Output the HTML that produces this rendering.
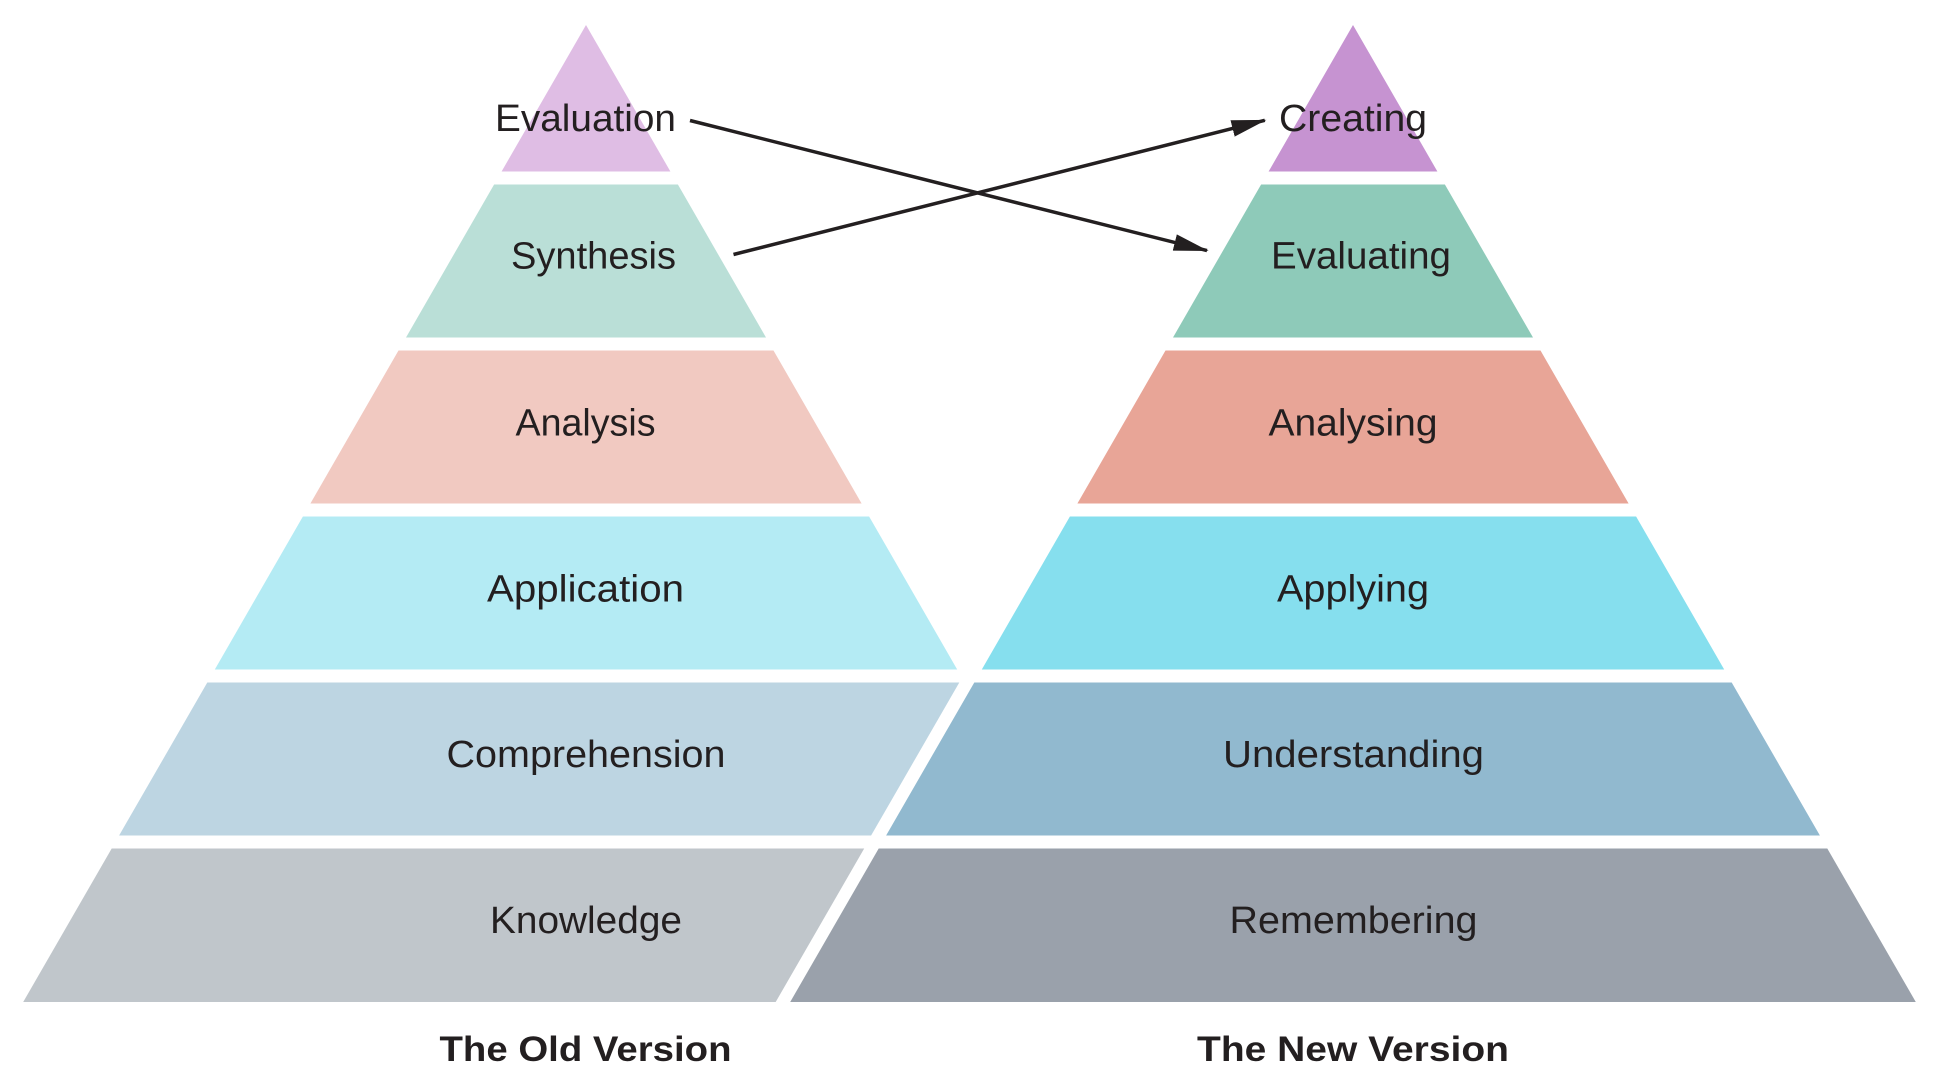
<!DOCTYPE html>
<html>
<head>
<meta charset="utf-8">
<style>
  html, body { margin: 0; padding: 0; background: #ffffff; }
  body { width: 1939px; height: 1078px; overflow: hidden; }
  svg { display: block; }
  .t { font-family: "Liberation Sans", sans-serif; font-size: 38px; fill: #231f20; }
  .b { font-family: "Liberation Sans", sans-serif; font-size: 35px; font-weight: bold; fill: #231f20; }
</style>
</head>
<body>
<svg width="1939" height="1078" viewBox="0 0 1939 1078" xmlns="http://www.w3.org/2000/svg">
  <defs>
    <marker id="ah" markerWidth="10" markerHeight="6" refX="9.5" refY="3" orient="auto" markerUnits="strokeWidth" viewBox="0 0 10 6">
      <path d="M0,0.6 L10,3 L0,5.4 Z" fill="#231f20"/>
    </marker>
  </defs>

  <!-- Old pyramid -->
  <polygon points="586,25 670.4,171.5 501.6,171.5" fill="#dfbde4"/>
  <polygon points="494.1,184.5 677.9,184.5 766,337.5 406,337.5" fill="#badfd7"/>
  <polygon points="398.5,350.5 773.5,350.5 861.6,503.5 310.4,503.5" fill="#f1c9c1"/>
  <polygon points="302.9,516.5 869.1,516.5 957.2,669.5 214.8,669.5" fill="#b4ebf4"/>
  <polygon points="207.3,682.5 959.3,682.5 871.1,835.5 119.1,835.5" fill="#bdd5e2"/>
  <polygon points="111.7,848.5 864.2,848.5 775.7,1002 23.2,1002" fill="#c0c6cb"/>

  <!-- New pyramid -->
  <polygon points="1353,25 1437.4,171.5 1268.6,171.5" fill="#c693d1"/>
  <polygon points="1261.1,184.5 1444.9,184.5 1533,337.5 1173,337.5" fill="#8ecab9"/>
  <polygon points="1165.5,350.5 1540.5,350.5 1628.6,503.5 1077.4,503.5" fill="#e8a597"/>
  <polygon points="1069.9,516.5 1636.1,516.5 1724.2,669.5 981.8,669.5" fill="#86dfee"/>
  <polygon points="974.3,682.5 1731.7,682.5 1819.9,835.5 886.1,835.5" fill="#91b9cf"/>
  <polygon points="878.7,848.5 1827.3,848.5 1915.8,1002 790.2,1002" fill="#9aa1ab"/>

  <!-- Old labels -->
  <text class="t" x="585.5" y="131" text-anchor="middle" textLength="181" lengthAdjust="spacingAndGlyphs">Evaluation</text>
  <text class="t" x="593.5" y="268.5" text-anchor="middle" textLength="165" lengthAdjust="spacingAndGlyphs">Synthesis</text>
  <text class="t" x="585.5" y="435.5" text-anchor="middle" textLength="140" lengthAdjust="spacingAndGlyphs">Analysis</text>
  <text class="t" x="585.5" y="601.5" text-anchor="middle" textLength="197" lengthAdjust="spacingAndGlyphs">Application</text>
  <text class="t" x="586" y="767" text-anchor="middle" textLength="279" lengthAdjust="spacingAndGlyphs">Comprehension</text>
  <text class="t" x="586" y="933" text-anchor="middle" textLength="192" lengthAdjust="spacingAndGlyphs">Knowledge</text>

  <!-- New labels -->
  <text class="t" x="1353" y="131" text-anchor="middle" textLength="148" lengthAdjust="spacingAndGlyphs">Creating</text>
  <text class="t" x="1361" y="268.5" text-anchor="middle" textLength="180" lengthAdjust="spacingAndGlyphs">Evaluating</text>
  <text class="t" x="1353" y="435.5" text-anchor="middle" textLength="169" lengthAdjust="spacingAndGlyphs">Analysing</text>
  <text class="t" x="1353" y="601.5" text-anchor="middle" textLength="152" lengthAdjust="spacingAndGlyphs">Applying</text>
  <text class="t" x="1353.5" y="767" text-anchor="middle" textLength="261" lengthAdjust="spacingAndGlyphs">Understanding</text>
  <text class="t" x="1353.5" y="933" text-anchor="middle" textLength="248" lengthAdjust="spacingAndGlyphs">Remembering</text>

  <!-- Titles -->
  <text class="b" x="585.5" y="1061" text-anchor="middle" textLength="292" lengthAdjust="spacingAndGlyphs">The Old Version</text>
  <text class="b" x="1353" y="1061" text-anchor="middle" textLength="312" lengthAdjust="spacingAndGlyphs">The New Version</text>

  <!-- Arrows -->
  <line x1="690" y1="120.5" x2="1207" y2="250.6" stroke="#231f20" stroke-width="3.5" marker-end="url(#ah)"/>
  <line x1="733.5" y1="254.5" x2="1264.8" y2="120.3" stroke="#231f20" stroke-width="3.5" marker-end="url(#ah)"/>
</svg>
</body>
</html>
